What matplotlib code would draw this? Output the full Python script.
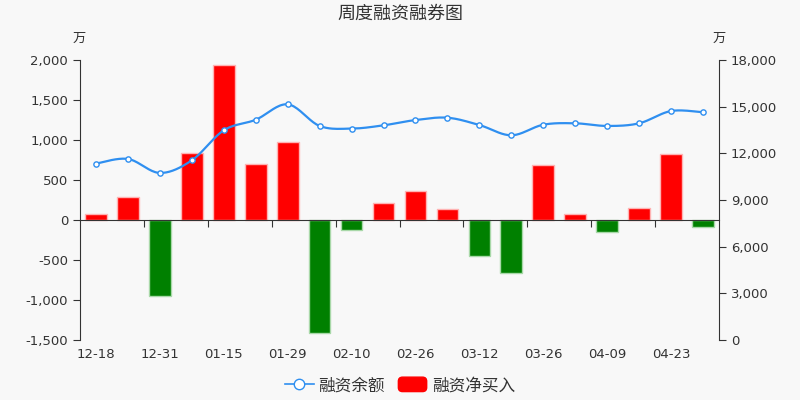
import numpy as np
import matplotlib
matplotlib.use("Agg")
import matplotlib.pyplot as plt
from matplotlib.legend_handler import HandlerPatch
from matplotlib.patches import FancyBboxPatch, Rectangle

plt.rcParams['font.family'] = ['DejaVu Sans', 'Noto Sans CJK SC']

# weekly dates (every other one is labelled)
dates = ["12-18", "12-25", "12-31", "01-08", "01-15", "01-22", "01-29", "02-05",
         "02-10", "02-19", "02-26", "03-05", "03-12", "03-19", "03-26", "04-02",
         "04-09", "04-16", "04-23", "04-30"]
# 融资净买入 (万)
net_buy = [75, 290, -950, 840, 1940, 700, 975, -1410, -125, 210,
           360, 135, -450, -660, 690, 70, -150, 150, 825, -85]
# 融资余额 (万)
balance = [11340, 11640, 10740, 11550, 13480, 14160, 15150, 13760, 13590, 13800,
           14140, 14290, 13820, 13160, 13840, 13930, 13760, 13930, 14720, 14640]

bg = "#f8f8f8"
txt = "#333333"
axis_col = "#333333"


def smooth(x, y, n=20):
    # Catmull-Rom style smoothing for drawing the curve through the points
    x = np.asarray(x, float)
    y = np.asarray(y, float)
    px = np.concatenate([[x[0]], x, [x[-1]]])
    py = np.concatenate([[y[0]], y, [y[-1]]])
    xs, ys = [], []
    for i in range(1, len(px) - 2):
        t = np.linspace(0, 1, n, endpoint=False)
        for p, out in ((px, xs), (py, ys)):
            p0, p1, p2, p3 = p[i - 1], p[i], p[i + 1], p[i + 2]
            out.extend(0.5 * ((2 * p1) + (-p0 + p2) * t +
                              (2 * p0 - 5 * p1 + 4 * p2 - p3) * t ** 2 +
                              (-p0 + 3 * p1 - 3 * p2 + p3) * t ** 3))
    xs.append(x[-1])
    ys.append(y[-1])
    return np.array(xs), np.array(ys)


class RoundHandler(HandlerPatch):
    def create_artists(self, legend, orig_handle, xdescent, ydescent,
                       width, height, fontsize, trans):
        p = FancyBboxPatch((-xdescent, -ydescent - 1), width, height + 2,
                           boxstyle="round,pad=0,rounding_size=3",
                           fc="#ff0000", ec="#ff0000", transform=trans)
        return [p]


fig = plt.figure(figsize=(8, 4), dpi=100, facecolor=bg)
ax = fig.add_axes([0.1, 0.15, 0.79875, 0.70])
ax.set_facecolor(bg)
ax2 = ax.twinx()

x = np.arange(len(dates))
colors = ["#ff0000" if v >= 0 else "#008000" for v in net_buy]
edges = ["#ffb3b3" if v >= 0 else "#a8d8a8" for v in net_buy]
ax.bar(x, net_buy, width=0.68, color=colors, edgecolor=edges, linewidth=1, zorder=2)

sx, sy = smooth(x, balance)
ax2.plot(sx, sy, color="#2f8ff0", lw=1.6, zorder=3)
ax2.plot(x, balance, linestyle="none", marker="o", ms=3.8, mfc="white",
         mec="#2f8ff0", mew=1, zorder=4)

ax.set_xlim(-0.5, len(dates) - 0.5)
ax.set_ylim(-1500, 2000)
ax.set_yticks(np.arange(-1500, 2001, 500))
ax.yaxis.set_major_formatter(matplotlib.ticker.FuncFormatter(lambda v, p: f"{v:,.0f}"))
ax2.set_ylim(0, 18000)
ax2.set_yticks(np.arange(0, 18001, 3000))
ax2.yaxis.set_major_formatter(matplotlib.ticker.FuncFormatter(lambda v, p: f"{v:,.0f}"))

for a in (ax, ax2):
    a.spines['top'].set_visible(False)
    for s in a.spines.values():
        s.set_color(axis_col)
ax.spines['right'].set_visible(False)
ax2.spines['left'].set_visible(False)
ax2.spines['bottom'].set_visible(False)

ax.spines['bottom'].set_position(('data', 0))
ax.set_xticks(np.arange(1.5, len(dates) - 1, 2))
ax.tick_params(axis='x', labelbottom=False, length=5, color=axis_col)
ax.tick_params(axis='y', labelsize=9.5, labelcolor=txt, length=5, color=axis_col)
ax2.tick_params(axis='y', labelsize=9.5, labelcolor=txt, length=5, color=axis_col)

sec = ax.secondary_xaxis('bottom')
sec.set_xticks(x[::2], dates[::2])
sec.tick_params(length=0, labelsize=9.5, labelcolor=txt, pad=6)
sec.spines['bottom'].set_visible(False)

fig.text(0.5, 0.965, "周度融资融券图", ha="center", va="center", fontsize=13, color=txt)
fig.text(0.099, 0.905, "万", ha="center", va="center", fontsize=9.5, color=txt)
fig.text(0.899, 0.905, "万", ha="center", va="center", fontsize=9.5, color=txt)

h1, = ax.plot([], [], color="#2f8ff0", lw=1.2, marker="o", ms=7.5, mfc="white", mec="#2f8ff0")
h2 = Rectangle((0, 0), 1, 1, fc="#ff0000")
fig.legend([h1, h2], ["融资余额", "融资净买入"], loc="center", bbox_to_anchor=(0.5, 0.037),
           ncol=2, frameon=False, fontsize=12, labelcolor=txt, handlelength=1.7,
           handletextpad=0.3, columnspacing=0.8,
           handler_map={Rectangle: RoundHandler()})

fig.savefig("out.png", dpi=100, facecolor=bg)
